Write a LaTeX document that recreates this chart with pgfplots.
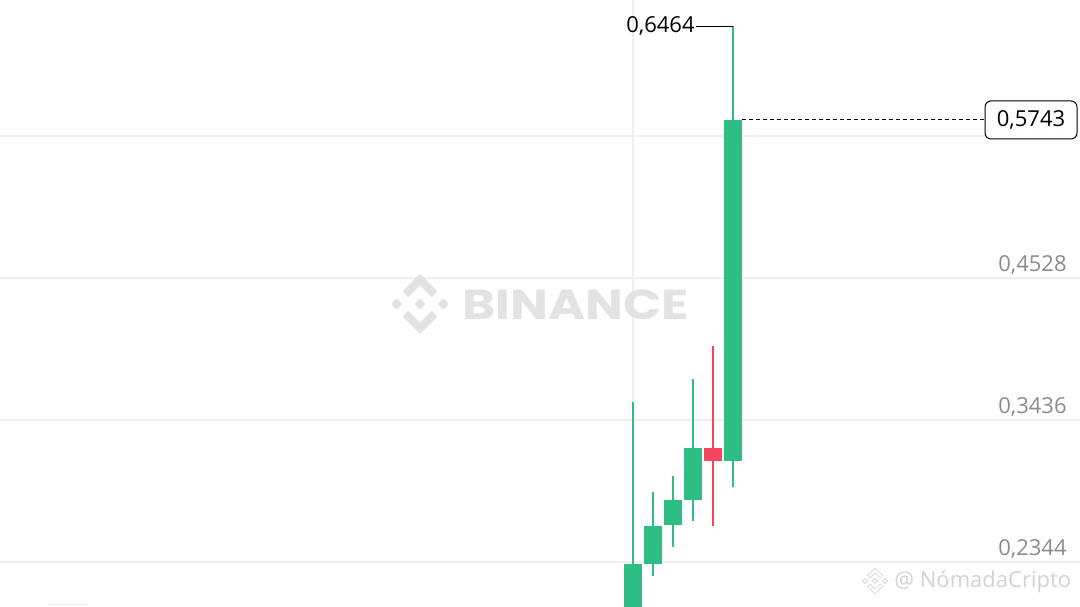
\documentclass[border=0pt]{standalone}
\usepackage{pgfplots}
\pgfplotsset{compat=1.18}
\usepackage{fontspec}
\setmainfont{Open Sans}
\newfontfamily\wmfont{Poppins}

\definecolor{up}{HTML}{2EBD85}
\definecolor{down}{HTML}{F6465D}
\definecolor{gridc}{HTML}{EFEFEF}
\definecolor{lbl}{HTML}{8C8C8C}
\definecolor{wm}{HTML}{E3E3E3}

\tikzset{ylbl/.style={anchor=base east, inner sep=0pt, text=lbl, font=\fontsize{11}{13}\selectfont, yshift=3pt}}

\begin{document}
\begin{tikzpicture}
\begin{axis}[
    scale only axis,
    width=540pt, height=303.5pt,
    xmin=0, xmax=1080,
    ymin=0.19979, ymax=0.66658,
    axis line style={draw=none},
    major tick length=0pt,
    xtick=\empty,
    ytick={0.2344,0.3436,0.4528,0.5620},
    yticklabels={},
    ymajorgrids,
    grid style={gridc, line width=0.7pt},
    clip=true,
]
% vertical grid line
\draw[gridc, line width=0.7pt] (axis cs:633,0.19979) -- (axis cs:633,0.66658);
\coordinate (tl) at (rel axis cs:0,1);
\coordinate (br) at (rel axis cs:1,0);

% watermark (behind candles)
\node[anchor=west, inner sep=0pt, text=wm, xscale=1.2, font=\wmfont\bfseries\fontsize{21}{24}\selectfont]
  at (axis cs:462,0.4322) {BINANCE};

% candles: wick then body
% 1
\addplot[up, line width=1pt] coordinates {(633,0.1600) (633,0.3577)};
\addplot[fill=up, draw=none] coordinates {(624,0.1667) (642,0.1667) (642,0.2326) (624,0.2326)} --cycle;
% 2
\addplot[up, line width=1pt] coordinates {(653,0.2239) (653,0.2882)};
\addplot[fill=up, draw=none] coordinates {(644,0.2326) (662,0.2326) (662,0.2623) (644,0.2623)} --cycle;
% 3
\addplot[up, line width=1pt] coordinates {(673,0.2462) (673,0.3008)};
\addplot[fill=up, draw=none] coordinates {(664,0.2629) (682,0.2629) (682,0.2818) (664,0.2818)} --cycle;
% 4
\addplot[up, line width=1pt] coordinates {(693,0.2662) (693,0.3749)};
\addplot[fill=up, draw=none] coordinates {(684,0.2818) (702,0.2818) (702,0.3218) (684,0.3218)} --cycle;
% 5 (down)
\addplot[down, line width=1pt] coordinates {(713,0.2623) (713,0.4003)};
\addplot[fill=down, draw=none] coordinates {(704,0.3218) (722,0.3218) (722,0.3123) (704,0.3123)} --cycle;
% 6
\addplot[up, line width=1pt] coordinates {(733,0.2923) (733,0.6464)};
\addplot[fill=up, draw=none] coordinates {(724,0.3123) (742,0.3123) (742,0.5743) (724,0.5743)} --cycle;

% y labels
\node[ylbl] at (axis cs:1067,0.2344) {0,2344};
\node[ylbl] at (axis cs:1067,0.3436) {0,3436};
\node[ylbl] at (axis cs:1067,0.4528) {0,4528};
\node[ylbl, text=lbl!25] at (axis cs:1067,0.5620) {0,5620};

% high marker
\draw[black, line width=0.5pt] (axis cs:696,0.6464) -- (axis cs:733,0.6464);
\node[anchor=east, inner sep=0pt, font=\fontsize{11}{13}\selectfont] at (axis cs:695,0.6464) {0,6464};

% last price
\draw[black, line width=0.5pt, dash pattern=on 2pt off 1.5pt] (axis cs:742,0.5743) -- (axis cs:985,0.5743);
\node[draw=black, line width=0.5pt, rounded corners=3pt, fill=white, fill opacity=0.9, text opacity=1,
      minimum width=46pt, minimum height=19pt, inner sep=0pt, font=\fontsize{11}{13}\selectfont]
  at (axis cs:1031,0.5743) {0,5743};
\end{axis}

% pixel-space overlay for the watermarks
\begin{scope}[shift={(tl)}, x=0.5pt, y=-0.5pt]
  % Binance logo
  \begin{scope}[shift={(420,304)}, x=15pt, y=-15pt]
    \fill[wm] (0,-1) -- (0.58,-0.42) -- (0.39,-0.23) -- (0,-0.62) -- (-0.39,-0.23) -- (-0.58,-0.42) -- cycle;
    \fill[wm] (0,1) -- (0.58,0.42) -- (0.39,0.23) -- (0,0.62) -- (-0.39,0.23) -- (-0.58,0.42) -- cycle;
    \fill[wm] (0,0.19) -- (0.19,0) -- (0,-0.19) -- (-0.19,0) -- cycle;
    \fill[wm] (0.77,0.19) -- (0.96,0) -- (0.77,-0.19) -- (0.58,0) -- cycle;
    \fill[wm] (-0.77,0.19) -- (-0.96,0) -- (-0.77,-0.19) -- (-0.58,0) -- cycle;
  \end{scope}
  % small logo bottom right
  \begin{scope}[shift={(875,581)}, x=6.5pt, y=-6.5pt]
    \draw[gray!30, line width=0.4pt] (0,-1) -- (0.58,-0.42) -- (0.39,-0.23) -- (0,-0.62) -- (-0.39,-0.23) -- (-0.58,-0.42) -- cycle;
    \draw[gray!30, line width=0.4pt] (0,1) -- (0.58,0.42) -- (0.39,0.23) -- (0,0.62) -- (-0.39,0.23) -- (-0.58,0.42) -- cycle;
    \draw[gray!30, line width=0.4pt] (0,0.19) -- (0.19,0) -- (0,-0.19) -- (-0.19,0) -- cycle;
    \draw[gray!30, line width=0.4pt] (0.77,0.19) -- (0.96,0) -- (0.77,-0.19) -- (0.58,0) -- cycle;
    \draw[gray!30, line width=0.4pt] (-0.77,0.19) -- (-0.96,0) -- (-0.77,-0.19) -- (-0.58,0) -- cycle;
  \end{scope}
  \node[anchor=west, inner sep=0pt, text=gray!35, font=\fontsize{11}{13}\selectfont] at (894,582) {@ NómadaCripto};
  \draw[gray!15, line width=0.5pt] (48,605) -- (88,605);
\end{scope}

\pgfresetboundingbox
\path[use as bounding box] (tl) rectangle (br);
\end{tikzpicture}
\end{document}
